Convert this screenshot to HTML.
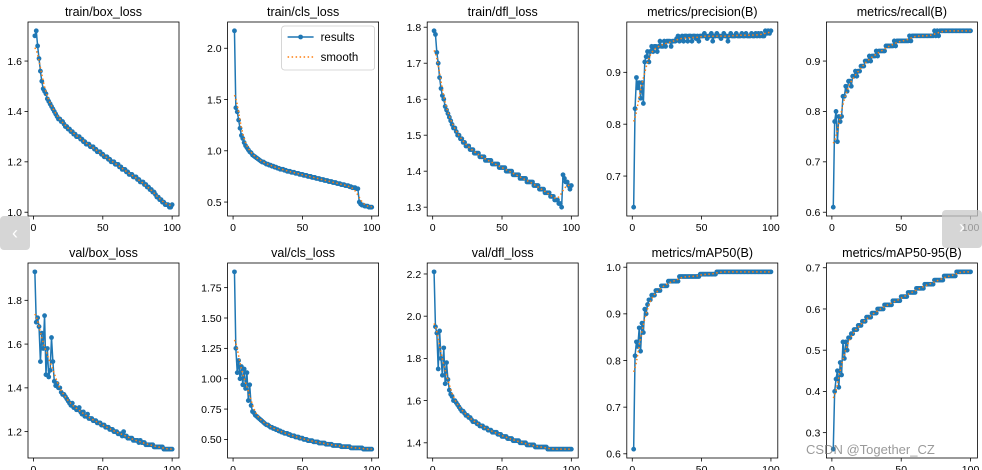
<!DOCTYPE html>
<html><head><meta charset="utf-8">
<style>
html,body{margin:0;padding:0;background:#fff;}
body{width:982px;height:470px;overflow:hidden;position:relative;font-family:"Liberation Sans","DejaVu Sans",sans-serif;}
svg{position:absolute;left:0;top:0;}
.nav{position:absolute;background:rgba(200,200,200,0.75);border-radius:4px;color:#fff;font-size:18px;text-align:center;line-height:34px;}
.wm{position:absolute;left:806px;top:442px;font-size:13px;color:rgba(120,120,120,0.75);}
</style></head>
<body>
<svg id="chart" width="982" height="470"></svg>
<div class="nav" style="left:0;top:216px;width:30px;height:34px;">‹</div>
<div class="nav" style="left:942px;top:210px;width:40px;height:38px;">›</div>
<div class="wm">CSDN @Together_CZ</div>
<script>
const epochs = Array.from({length:100},(_, i)=>i+1);
const titles = ["train/box_loss","train/cls_loss","train/dfl_loss","metrics/precision(B)","metrics/recall(B)","val/box_loss","val/cls_loss","val/dfl_loss","metrics/mAP50(B)","metrics/mAP50-95(B)"];
const trainBox = [1.70,1.72,1.66,1.61,1.56,1.52,1.49,1.48,1.47,1.45,1.44,1.43,1.42,1.41,1.40,1.39,1.38,1.37,1.37,1.36,1.36,1.35,1.34,1.34,1.33,1.33,1.32,1.32,1.31,1.31,1.30,1.30,1.30,1.29,1.29,1.28,1.28,1.27,1.27,1.27,1.26,1.26,1.26,1.25,1.25,1.24,1.24,1.24,1.23,1.23,1.22,1.22,1.22,1.21,1.21,1.20,1.20,1.20,1.19,1.19,1.19,1.18,1.18,1.17,1.17,1.17,1.16,1.16,1.15,1.15,1.15,1.14,1.14,1.14,1.13,1.13,1.12,1.12,1.12,1.11,1.11,1.10,1.10,1.09,1.09,1.08,1.08,1.07,1.06,1.06,1.05,1.05,1.04,1.04,1.03,1.03,1.03,1.02,1.02,1.03];
const trainCls = [2.17,1.42,1.38,1.30,1.22,1.15,1.12,1.08,1.05,1.03,1.01,0.99,0.98,0.96,0.95,0.94,0.93,0.92,0.91,0.90,0.89,0.89,0.88,0.87,0.87,0.86,0.86,0.85,0.85,0.84,0.84,0.83,0.83,0.82,0.82,0.82,0.81,0.81,0.80,0.80,0.80,0.79,0.79,0.79,0.78,0.78,0.78,0.77,0.77,0.77,0.76,0.76,0.76,0.75,0.75,0.75,0.74,0.74,0.74,0.73,0.73,0.73,0.72,0.72,0.72,0.71,0.71,0.71,0.70,0.70,0.70,0.69,0.69,0.69,0.68,0.68,0.68,0.67,0.67,0.67,0.66,0.66,0.66,0.65,0.65,0.64,0.64,0.64,0.63,0.63,0.50,0.48,0.47,0.47,0.46,0.46,0.46,0.45,0.45,0.45];
const trainDfl = [1.79,1.78,1.73,1.70,1.66,1.63,1.61,1.60,1.58,1.57,1.56,1.55,1.54,1.53,1.52,1.52,1.51,1.50,1.50,1.49,1.49,1.48,1.48,1.47,1.47,1.47,1.46,1.46,1.46,1.45,1.45,1.45,1.45,1.44,1.44,1.44,1.44,1.43,1.43,1.43,1.43,1.43,1.42,1.42,1.42,1.42,1.42,1.41,1.41,1.41,1.41,1.41,1.40,1.40,1.40,1.40,1.40,1.39,1.39,1.39,1.39,1.39,1.38,1.38,1.38,1.38,1.38,1.37,1.37,1.37,1.37,1.37,1.36,1.36,1.36,1.36,1.35,1.35,1.35,1.35,1.34,1.34,1.34,1.34,1.33,1.33,1.33,1.32,1.32,1.32,1.31,1.31,1.30,1.39,1.38,1.37,1.37,1.36,1.35,1.36];
const precision = [0.64,0.83,0.89,0.87,0.88,0.85,0.88,0.84,0.92,0.93,0.94,0.92,0.94,0.95,0.94,0.95,0.95,0.94,0.95,0.96,0.95,0.95,0.96,0.95,0.96,0.96,0.96,0.95,0.96,0.96,0.96,0.965,0.97,0.96,0.965,0.97,0.96,0.97,0.97,0.96,0.97,0.97,0.96,0.97,0.97,0.965,0.97,0.96,0.97,0.97,0.97,0.975,0.97,0.965,0.97,0.97,0.975,0.96,0.97,0.97,0.975,0.97,0.97,0.965,0.97,0.975,0.97,0.97,0.96,0.97,0.975,0.97,0.97,0.97,0.975,0.97,0.97,0.97,0.975,0.97,0.97,0.975,0.97,0.97,0.97,0.975,0.97,0.97,0.975,0.97,0.975,0.97,0.975,0.97,0.97,0.98,0.975,0.98,0.975,0.98];
const recall = [0.61,0.78,0.80,0.74,0.79,0.78,0.79,0.83,0.83,0.85,0.84,0.86,0.86,0.85,0.87,0.87,0.88,0.87,0.88,0.88,0.89,0.89,0.89,0.90,0.90,0.90,0.91,0.90,0.91,0.91,0.91,0.92,0.91,0.92,0.92,0.92,0.92,0.92,0.93,0.93,0.93,0.93,0.93,0.93,0.94,0.93,0.94,0.94,0.94,0.94,0.94,0.94,0.94,0.94,0.94,0.95,0.94,0.95,0.95,0.95,0.95,0.95,0.95,0.95,0.95,0.95,0.95,0.95,0.95,0.95,0.95,0.95,0.95,0.96,0.95,0.96,0.95,0.96,0.96,0.96,0.96,0.96,0.96,0.96,0.96,0.96,0.96,0.96,0.96,0.96,0.96,0.96,0.96,0.96,0.96,0.96,0.96,0.96,0.96,0.96];
const valBox = [1.93,1.70,1.72,1.68,1.52,1.65,1.58,1.73,1.46,1.58,1.45,1.48,1.63,1.52,1.43,1.41,1.42,1.40,1.40,1.38,1.37,1.37,1.36,1.35,1.34,1.33,1.32,1.33,1.31,1.31,1.30,1.30,1.31,1.29,1.28,1.29,1.27,1.27,1.28,1.26,1.26,1.26,1.25,1.25,1.25,1.24,1.24,1.24,1.23,1.23,1.23,1.22,1.22,1.22,1.21,1.21,1.21,1.20,1.20,1.20,1.19,1.19,1.19,1.18,1.20,1.18,1.18,1.17,1.17,1.17,1.17,1.16,1.16,1.16,1.16,1.15,1.16,1.15,1.15,1.15,1.14,1.14,1.14,1.14,1.14,1.14,1.13,1.13,1.13,1.13,1.13,1.13,1.13,1.12,1.12,1.12,1.12,1.12,1.12,1.12];
const valCls = [1.88,1.25,1.05,1.15,1.00,1.10,0.95,1.08,0.92,1.05,0.82,0.95,0.78,0.73,0.72,0.70,0.69,0.68,0.67,0.66,0.65,0.64,0.63,0.62,0.62,0.61,0.60,0.60,0.59,0.59,0.58,0.58,0.57,0.57,0.56,0.56,0.55,0.55,0.55,0.54,0.54,0.53,0.53,0.53,0.52,0.52,0.52,0.51,0.51,0.51,0.50,0.50,0.50,0.49,0.49,0.49,0.49,0.48,0.48,0.48,0.48,0.47,0.47,0.47,0.47,0.47,0.46,0.46,0.46,0.46,0.46,0.45,0.45,0.45,0.45,0.45,0.45,0.44,0.44,0.44,0.44,0.44,0.44,0.44,0.43,0.43,0.43,0.43,0.43,0.43,0.43,0.43,0.43,0.42,0.42,0.42,0.42,0.42,0.42,0.42];
const valDfl = [2.21,1.95,1.92,1.75,1.93,1.80,1.72,1.85,1.68,1.78,1.70,1.65,1.63,1.62,1.60,1.60,1.59,1.58,1.57,1.56,1.55,1.55,1.54,1.53,1.53,1.52,1.52,1.51,1.50,1.50,1.50,1.49,1.49,1.48,1.48,1.48,1.47,1.47,1.47,1.46,1.46,1.46,1.45,1.45,1.45,1.45,1.44,1.44,1.44,1.43,1.43,1.43,1.43,1.42,1.42,1.42,1.42,1.41,1.41,1.41,1.41,1.41,1.40,1.40,1.40,1.40,1.40,1.39,1.39,1.39,1.39,1.39,1.39,1.38,1.38,1.38,1.38,1.38,1.38,1.38,1.38,1.38,1.37,1.37,1.37,1.37,1.37,1.37,1.37,1.37,1.37,1.37,1.37,1.37,1.37,1.37,1.37,1.37,1.37,1.37];
const map50 = [0.61,0.81,0.84,0.83,0.87,0.82,0.88,0.86,0.91,0.90,0.92,0.93,0.93,0.94,0.94,0.94,0.95,0.95,0.95,0.95,0.96,0.96,0.96,0.96,0.96,0.97,0.97,0.97,0.97,0.97,0.97,0.97,0.97,0.98,0.98,0.98,0.98,0.98,0.98,0.98,0.98,0.98,0.98,0.98,0.98,0.98,0.98,0.98,0.985,0.985,0.985,0.985,0.985,0.985,0.985,0.985,0.985,0.985,0.985,0.985,0.99,0.99,0.99,0.99,0.99,0.99,0.99,0.99,0.99,0.99,0.99,0.99,0.99,0.99,0.99,0.99,0.99,0.99,0.99,0.99,0.99,0.99,0.99,0.99,0.99,0.99,0.99,0.99,0.99,0.99,0.99,0.99,0.99,0.99,0.99,0.99,0.99,0.99,0.99,0.99];
const map5095 = [0.26,0.40,0.43,0.45,0.41,0.47,0.44,0.52,0.48,0.52,0.50,0.53,0.53,0.54,0.54,0.55,0.55,0.55,0.56,0.56,0.56,0.57,0.57,0.57,0.58,0.58,0.58,0.58,0.59,0.59,0.59,0.59,0.60,0.60,0.60,0.60,0.60,0.61,0.61,0.61,0.61,0.61,0.61,0.62,0.62,0.62,0.62,0.62,0.62,0.63,0.63,0.63,0.63,0.63,0.64,0.64,0.64,0.64,0.64,0.64,0.65,0.65,0.65,0.65,0.65,0.65,0.66,0.66,0.66,0.66,0.66,0.66,0.66,0.67,0.67,0.67,0.67,0.67,0.67,0.67,0.68,0.68,0.68,0.68,0.68,0.68,0.68,0.68,0.68,0.69,0.69,0.69,0.69,0.69,0.69,0.69,0.69,0.69,0.69,0.69];
const xTicks = [0,50,100];
const yTicks0 = [1.0,1.2,1.4,1.6];
const yTicks1 = [0.5,1.0,1.5,2.0];
const yTicks2 = [1.3,1.4,1.5,1.6,1.7,1.8];
const yTicks3 = [0.7,0.8,0.9];
const yTicks4 = [0.6,0.7,0.8,0.9];
const yTicks5 = [1.2,1.4,1.6,1.8];
const yTicks6 = [0.50,0.75,1.00,1.25,1.50,1.75];
const yTicks7 = [1.4,1.6,1.8,2.0,2.2];
const yTicks8 = [0.6,0.7,0.8,0.9,1.0];
const yTicks9 = [0.3,0.4,0.5,0.6,0.7];

const series=[trainBox,trainCls,trainDfl,precision,recall,valBox,valCls,valDfl,map50,map5095];
const yTickSets=[yTicks0,yTicks1,yTicks2,yTicks3,yTicks4,yTicks5,yTicks6,yTicks7,yTicks8,yTicks9];
const yDigits=[1,1,1,1,1,1,2,1,1,1];
const NS="http://www.w3.org/2000/svg";
const svg=document.getElementById('chart');
function mk(tag,attrs,parent){const e=document.createElementNS(NS,tag);for(const k in attrs)e.setAttribute(k,attrs[k]);(parent||svg).appendChild(e);return e;}
function smooth(a,s){const r=Math.ceil(4*s),n=a.length,out=[];for(let i=0;i<n;i++){let sw=0,sv=0;for(let k=-r;k<=r;k++){let j=i+k;if(j<0)j=-j-1;if(j>=n)j=2*n-j-1;j=Math.max(0,Math.min(n-1,j));const w=Math.exp(-k*k/(2*s*s));sw+=w;sv+=w*a[j];}out.push(sv/sw);}return out;}
for(let p=0;p<10;p++){
  const col=p%5,row=Math.floor(p/5);
  const L=28+col*199.6,R=L+151,T=row?263:22,B=row?458:216;
  const data=series[p];
  const xmin=1-0.05*99,xmax=100+0.05*99;
  let mn=Math.min(...data),mx=Math.max(...data),m=(mx-mn)*0.05;
  const ymin=mn-m,ymax=mx+m;
  const X=v=>L+(v-xmin)/(xmax-xmin)*(R-L);
  const Y=v=>B-(v-ymin)/(ymax-ymin)*(B-T);
  const g=mk('g',{});
  
  
  const t=mk('text',{x:(L+R)/2,y:T-6,'text-anchor':'middle','font-size':'12.5',fill:'#000'},g);
  t.textContent=titles[p];
  
  
  // x ticks
  xTicks.forEach(v=>{const x=X(v);mk('line',{x1:x,x2:x,y1:B,y2:B+3.5,stroke:'#000','stroke-width':0.8},g);
    const tx=mk('text',{x:x,y:B+15,'text-anchor':'middle','font-size':'10.5',fill:'#000'},g);tx.textContent=v;
    
    });
  yTickSets[p].forEach(v=>{if(v<ymin||v>ymax)return;const y=Y(v);mk('line',{x1:L-3.5,x2:L,y1:y,y2:y,stroke:'#000','stroke-width':0.8},g);
    const ty=mk('text',{x:L-6,y:y+3.8,'text-anchor':'end','font-size':'10.5',fill:'#000'},g);ty.textContent=v.toFixed(yDigits[p]);
    
    });
  const pts=data.map((v,i)=>X(epochs[i]).toFixed(2)+','+Y(v).toFixed(2)).join(' ');
  const ln=mk('polyline',{points:pts,fill:'none',stroke:'#1f77b4','stroke-width':1.5},g);
  
  
  data.forEach((v,i)=>{const c=mk('circle',{cx:X(epochs[i]),cy:Y(v),r:2.4,fill:'#1f77b4'},g);
    
    });
  const sm=smooth(data,3);
  const sl=mk('polyline',{points:sm.map((v,i)=>X(epochs[i]).toFixed(2)+','+Y(v).toFixed(2)).join(' '),fill:'none',stroke:'#ff7f0e','stroke-width':1.5,'stroke-dasharray':'1.5,2.5'},g);
  
  
  mk('rect',{x:L,y:T,width:R-L,height:B-T,fill:'none',stroke:'#000','stroke-width':0.8},g);
  if(p===1){
    const lg=mk('g',{},g);
    
    
    mk('rect',{x:R-97,y:T+4,width:93,height:44,rx:3,fill:'#fff','fill-opacity':0.8,stroke:'#ccc','stroke-width':0.8},lg);
    mk('line',{x1:R-91,x2:R-65,y1:T+15,y2:T+15,stroke:'#1f77b4','stroke-width':1.5},lg);
    mk('circle',{cx:R-78,cy:T+15,r:2.4,fill:'#1f77b4'},lg);
    const a=mk('text',{x:R-58,y:T+19,'font-size':'11.5',fill:'#000'},lg);a.textContent='results';
    
    
    mk('line',{x1:R-91,x2:R-65,y1:T+35,y2:T+35,stroke:'#ff7f0e','stroke-width':1.5,'stroke-dasharray':'1.5,2.5'},lg);
    const b=mk('text',{x:R-58,y:T+39,'font-size':'11.5',fill:'#000'},lg);b.textContent='smooth';
    
    
  }
}
</script>
</body></html>
